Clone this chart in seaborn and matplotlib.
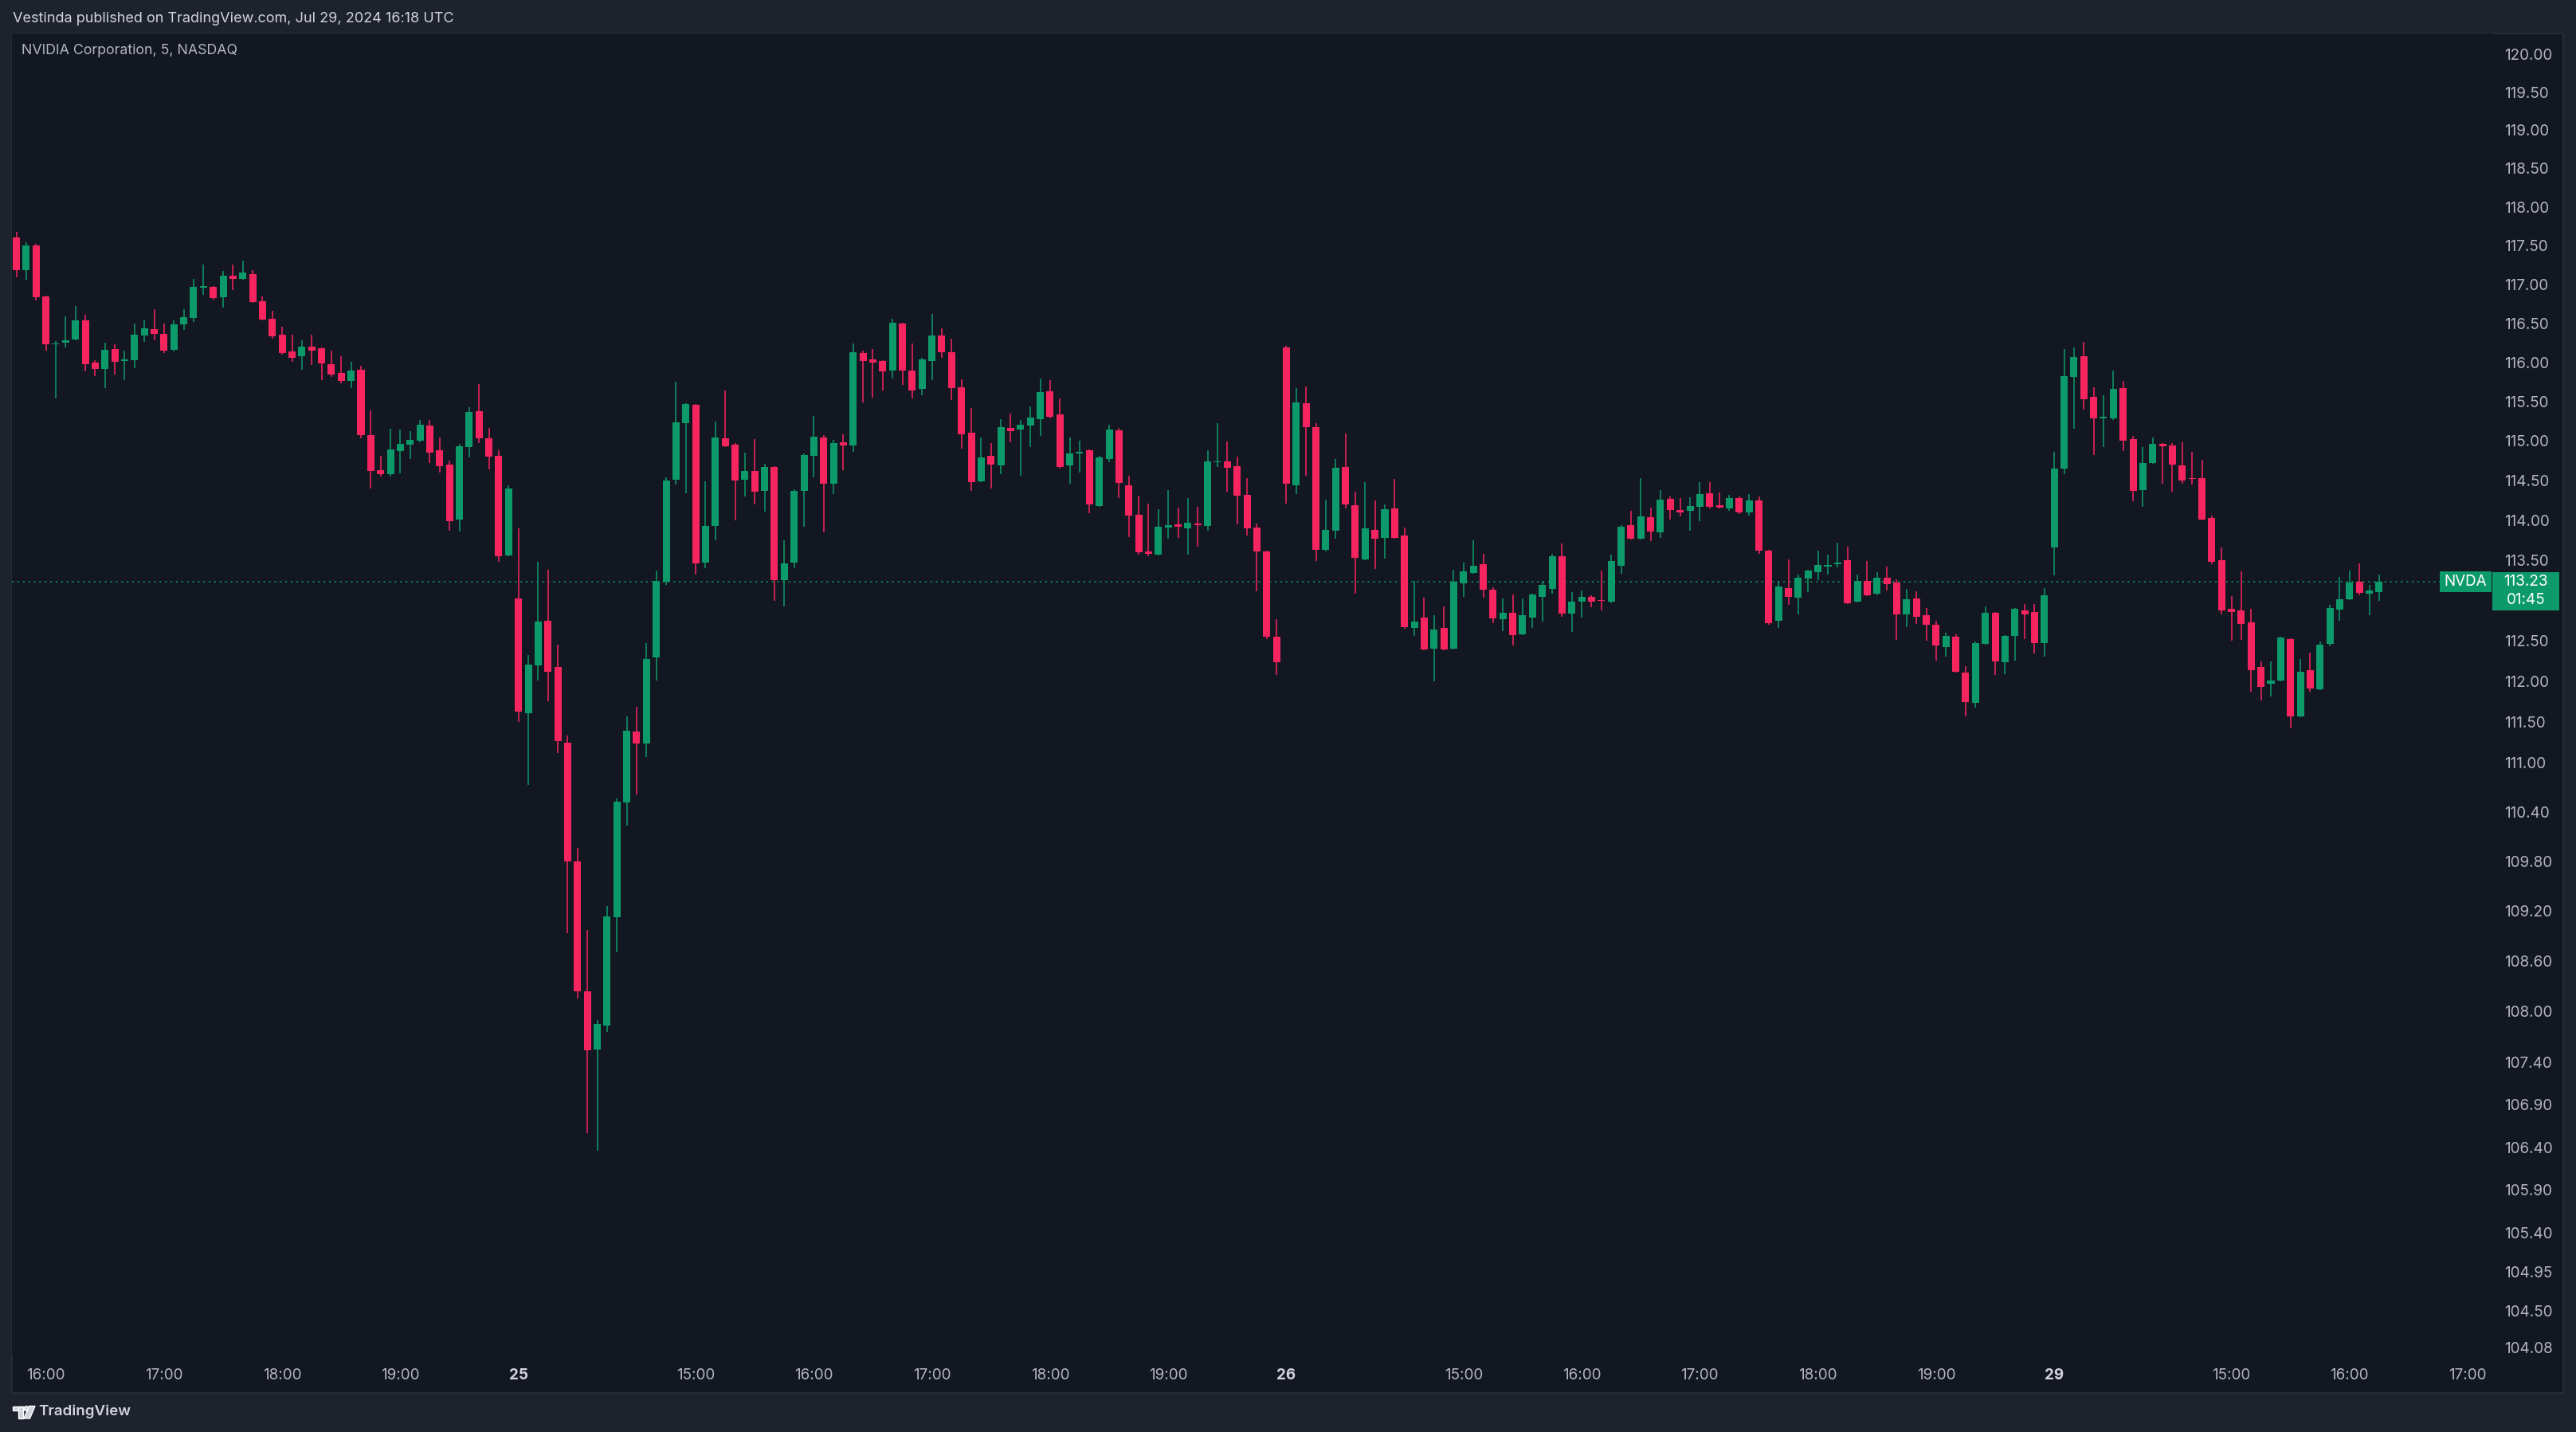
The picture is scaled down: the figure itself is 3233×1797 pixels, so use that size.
import numpy as np
import pandas as pd
import matplotlib
matplotlib.use("Agg")
import matplotlib.pyplot as plt
import seaborn as sns
from matplotlib.patches import Rectangle, Polygon, Circle
from matplotlib.ticker import FixedLocator, FixedFormatter, NullLocator
from matplotlib.transforms import IdentityTransform

# ---------------- data (NVDA, 5-minute candles, UTC) ----------------
session_starts = ["2024-07-24 15:45", "2024-07-25 13:30", "2024-07-26 13:30", "2024-07-29 13:30"]

jul24_open = [117.60, 117.18, 117.50, 116.84, 116.23, 116.25, 116.29, 116.54, 116.00, 115.91,
              116.17, 116.02, 116.03, 116.34, 116.42, 116.36, 116.16, 116.48, 116.57, 116.96,
              116.97, 116.83, 117.11, 117.07, 117.13, 116.78, 116.56, 116.35, 116.14, 116.08,
              116.20, 116.18, 115.98, 115.86, 115.76, 115.90, 115.07, 114.63, 114.58, 114.87,
              114.95, 115.00, 115.19, 114.88, 114.70, 114.01, 114.92, 115.38, 115.03, 114.81, 113.56]
jul24_high = [117.68, 117.54, 117.52, 116.85, 116.27, 116.59, 116.72, 116.61, 116.03, 116.25,
              116.23, 116.15, 116.50, 116.54, 116.68, 116.50, 116.54, 116.68, 117.07, 117.25,
              116.98, 117.17, 117.25, 117.31, 117.18, 116.84, 116.66, 116.45, 116.35, 116.28,
              116.35, 116.19, 116.15, 116.08, 116.01, 115.95, 115.39, 114.81, 115.15, 115.14,
              115.12, 115.27, 115.27, 115.04, 114.75, 114.96, 115.43, 115.72, 115.16, 114.88, 114.44]
jul24_low = [117.09, 117.06, 116.79, 116.15, 115.54, 116.19, 116.28, 115.88, 115.82, 115.67,
             115.84, 115.77, 115.92, 116.26, 116.28, 116.12, 116.14, 116.41, 116.52, 116.86,
             116.80, 116.70, 116.92, 117.06, 116.76, 116.54, 116.30, 116.10, 116.01, 115.90,
             115.97, 115.77, 115.81, 115.73, 115.67, 115.03, 114.40, 114.55, 114.55, 114.59,
             114.77, 114.98, 114.72, 114.60, 113.87, 113.86, 114.79, 114.97, 114.64, 113.48, 113.55]
jul24_close = [117.18, 117.50, 116.83, 116.23, 116.24, 116.28, 116.54, 115.98, 115.91, 116.16,
               116.01, 116.03, 116.35, 116.43, 116.36, 116.15, 116.49, 116.58, 116.97, 116.97,
               116.82, 117.11, 117.07, 117.15, 116.77, 116.55, 116.33, 116.12, 116.06, 116.20,
               116.15, 115.99, 115.84, 115.76, 115.89, 115.07, 114.62, 114.58, 114.89, 114.96,
               115.01, 115.21, 114.85, 114.68, 113.99, 114.93, 115.37, 115.03, 114.80, 113.55, 114.40]

jul25_open = [113.02, 111.61, 112.19, 112.75, 112.17, 111.24, 109.80, 108.24, 107.55, 107.83,
              109.13, 110.51, 111.38, 111.23, 112.29, 113.23, 114.51, 115.23, 115.46, 113.47,
              113.93, 115.03, 114.95, 114.51, 114.62, 114.37, 114.67, 113.25, 113.47, 114.37,
              114.81, 115.04, 114.46, 114.98, 114.94, 116.12, 116.04, 116.02, 115.89, 116.50,
              115.89, 115.66, 116.02, 116.34, 116.13, 115.68, 115.10, 114.49, 114.81, 114.69,
              115.16, 115.14, 115.19, 115.28, 115.63, 115.34, 114.69, 114.84, 114.88, 114.18,
              114.77, 115.13, 114.44, 114.07, 113.61, 113.57, 113.91, 113.95, 113.90, 113.96,
              113.93, 114.73, 114.74, 114.68, 114.32, 113.91, 113.61, 112.55]
jul25_high = [113.90, 112.32, 113.48, 113.38, 112.45, 111.33, 109.96, 108.97, 107.90, 109.26,
              110.56, 111.57, 111.68, 112.47, 113.37, 114.54, 115.75, 115.48, 115.47, 114.49,
              115.25, 115.64, 114.97, 114.85, 115.02, 114.71, 114.68, 113.75, 114.39, 114.84,
              115.32, 115.07, 115.01, 115.08, 116.24, 116.15, 116.17, 116.03, 116.56, 116.51,
              116.24, 116.06, 116.62, 116.43, 116.30, 115.78, 115.42, 115.04, 114.97, 115.28,
              115.35, 115.27, 115.44, 115.79, 115.77, 115.54, 115.04, 115.00, 114.89, 114.81,
              115.21, 115.16, 114.56, 114.31, 114.21, 114.14, 114.38, 114.16, 114.28, 114.17,
              114.88, 115.23, 114.99, 114.80, 114.53, 113.96, 113.62, 112.77]
jul25_low = [111.50, 110.73, 112.01, 111.75, 111.12, 108.94, 108.16, 106.56, 106.36, 107.76,
             108.71, 110.23, 110.61, 111.07, 112.01, 113.19, 114.45, 114.34, 113.32, 113.40,
             113.75, 114.92, 114.00, 114.30, 114.20, 114.11, 112.99, 112.92, 113.40, 113.92,
             114.54, 113.85, 114.33, 114.63, 114.86, 115.49, 115.55, 115.64, 115.79, 115.71,
             115.54, 115.58, 115.77, 116.06, 115.52, 114.90, 114.37, 114.48, 114.40, 114.58,
             114.98, 114.56, 114.92, 115.06, 115.29, 114.65, 114.46, 114.60, 114.09, 114.17,
             114.73, 114.28, 113.79, 113.57, 113.55, 113.56, 113.77, 113.78, 113.57, 113.67,
             113.87, 114.67, 114.36, 113.95, 113.81, 113.11, 112.52, 112.08]
jul25_close = [111.62, 112.20, 112.74, 112.12, 111.26, 109.80, 108.24, 107.54, 107.85, 109.14,
               110.52, 111.39, 111.23, 112.27, 113.24, 114.50, 115.24, 115.47, 113.46, 113.93,
               115.04, 114.93, 114.50, 114.62, 114.36, 114.67, 113.25, 113.46, 114.37, 114.82,
               115.05, 114.46, 114.97, 114.94, 116.13, 116.02, 116.00, 115.88, 116.51, 115.89,
               115.64, 116.04, 116.34, 116.13, 115.67, 115.08, 114.48, 114.79, 114.70, 115.17,
               115.12, 115.21, 115.30, 115.62, 115.31, 114.67, 114.84, 114.86, 114.20, 114.79,
               115.14, 114.47, 114.06, 113.60, 113.58, 113.92, 113.94, 113.92, 113.97, 113.94,
               114.74, 114.74, 114.66, 114.31, 113.90, 113.61, 112.55, 112.23]

jul26_open = [116.19, 114.44, 115.48, 115.17, 113.63, 113.87, 114.67, 114.19, 113.51, 113.88,
              113.78, 114.15, 113.81, 112.66, 112.79, 112.40, 112.66, 112.40, 113.21, 113.34,
              113.45, 113.13, 112.77, 112.85, 112.58, 112.79, 113.04, 113.14, 113.55, 112.84,
              112.98, 113.04, 113.00, 112.98, 113.43, 113.94, 113.77, 114.04, 113.85, 114.27,
              114.13, 114.12, 114.17, 114.34, 114.19, 114.15, 114.28, 114.10, 114.25, 113.62,
              112.75, 113.15, 113.03, 113.27, 113.35, 113.42, 113.45, 113.50, 112.98, 113.24,
              113.08, 113.28, 113.22, 112.83, 113.02, 112.82, 112.70, 112.42, 112.55, 112.11,
              111.73, 112.46, 112.85, 112.23, 112.56, 112.87, 112.86, 112.47]
jul26_high = [116.21, 115.67, 115.69, 115.23, 114.26, 114.77, 115.09, 114.36, 114.48, 114.25,
              114.20, 114.52, 113.91, 113.24, 113.03, 112.82, 112.92, 113.38, 113.47, 113.75,
              113.58, 113.16, 113.02, 113.07, 113.02, 113.08, 113.24, 113.58, 113.71, 113.10,
              113.12, 113.06, 113.37, 113.57, 113.94, 114.12, 114.53, 114.16, 114.38, 114.30,
              114.28, 114.29, 114.48, 114.48, 114.35, 114.32, 114.30, 114.33, 114.30, 113.63,
              113.24, 113.51, 113.32, 113.38, 113.62, 113.57, 113.72, 113.67, 113.32, 113.49,
              113.35, 113.42, 113.26, 113.14, 113.11, 112.90, 112.75, 112.60, 112.58, 112.18,
              112.49, 112.92, 112.86, 112.57, 112.90, 112.95, 112.95, 113.15]
jul26_low = [114.21, 114.33, 114.56, 113.49, 113.61, 113.77, 114.15, 113.08, 113.50, 113.39,
             113.52, 113.77, 112.65, 112.56, 112.38, 112.00, 112.38, 112.39, 113.04, 113.33,
             113.03, 112.72, 112.62, 112.44, 112.57, 112.66, 112.74, 113.08, 112.80, 112.61,
             112.79, 112.91, 112.87, 112.96, 113.33, 113.76, 113.76, 113.74, 113.78, 114.01,
             114.05, 113.87, 113.99, 114.15, 114.15, 114.12, 114.08, 114.06, 113.58, 112.70,
             112.66, 112.94, 112.83, 113.10, 113.25, 113.32, 113.41, 112.95, 112.97, 113.05,
             113.06, 113.12, 112.51, 112.67, 112.71, 112.50, 112.25, 112.30, 112.11, 111.57,
             111.67, 112.45, 112.08, 112.09, 112.25, 112.52, 112.34, 112.30]
jul26_close = [114.46, 115.49, 115.17, 113.63, 113.88, 114.66, 114.20, 113.53, 113.90, 113.77,
               114.14, 113.78, 112.67, 112.74, 112.39, 112.64, 112.39, 113.23, 113.36, 113.43,
               113.13, 112.78, 112.85, 112.57, 112.82, 113.07, 113.19, 113.55, 112.84, 112.98,
               113.04, 112.98, 112.99, 113.49, 113.92, 113.77, 114.05, 113.86, 114.26, 114.13,
               114.10, 114.18, 114.33, 114.17, 114.16, 114.28, 114.10, 114.25, 113.62, 112.72,
               113.17, 113.04, 113.28, 113.37, 113.44, 113.44, 113.47, 112.96, 113.24, 113.06,
               113.28, 113.20, 112.83, 113.01, 112.80, 112.70, 112.44, 112.56, 112.12, 111.74,
               112.47, 112.85, 112.24, 112.56, 112.89, 112.83, 112.47, 113.06]

jul29_open = [113.66, 114.65, 115.81, 116.08, 115.56, 115.29, 115.29, 115.67, 115.02, 114.38,
              114.72, 114.96, 114.94, 114.69, 114.53, 114.53, 114.03, 113.50, 112.89, 112.87,
              112.73, 112.17, 111.97, 112.01, 112.52, 111.57, 112.13, 111.90, 112.46, 112.88,
              113.01, 113.23, 113.08, 113.10]
jul29_high = [114.86, 116.17, 116.19, 116.26, 115.68, 115.58, 115.89, 115.76, 115.06, 114.92,
              115.04, 114.97, 114.97, 114.98, 114.86, 114.76, 114.06, 113.66, 113.05, 113.36,
              112.89, 112.24, 112.24, 112.55, 112.53, 112.27, 112.35, 112.49, 112.94, 113.29,
              113.37, 113.46, 113.19, 113.32]
jul29_low = [113.31, 114.58, 115.15, 115.40, 114.82, 114.92, 115.27, 114.87, 114.24, 114.17,
             114.71, 114.46, 114.36, 114.46, 114.45, 114.00, 113.45, 112.83, 112.50, 112.51,
             111.87, 111.76, 111.81, 112.00, 111.42, 111.56, 111.87, 111.89, 112.43, 112.75,
             113.00, 113.06, 112.82, 112.99]
jul29_close = [114.65, 115.82, 116.07, 115.53, 115.29, 115.30, 115.66, 115.00, 114.37, 114.72,
               114.96, 114.93, 114.70, 114.50, 114.52, 114.01, 113.48, 112.87, 112.86, 112.71,
               112.13, 111.93, 112.01, 112.54, 111.57, 112.12, 111.91, 112.45, 112.90, 113.01,
               113.22, 113.09, 113.12, 113.23]

price_ticks = [120.00, 119.50, 119.00, 118.50, 118.00, 117.50, 117.00, 116.50, 116.00, 115.50,
               115.00, 114.50, 114.00, 113.50, 112.50, 112.00, 111.50, 111.00, 110.40, 109.80,
               109.20, 108.60, 108.00, 107.40, 106.90, 106.40, 105.90, 105.40, 104.95, 104.50, 104.08]
time_ticks = ["2024-07-24 16:00", "2024-07-24 17:00", "2024-07-24 18:00", "2024-07-24 19:00",
              "2024-07-25 13:30", "2024-07-25 15:00", "2024-07-25 16:00", "2024-07-25 17:00",
              "2024-07-25 18:00", "2024-07-25 19:00",
              "2024-07-26 13:30", "2024-07-26 15:00", "2024-07-26 16:00", "2024-07-26 17:00",
              "2024-07-26 18:00", "2024-07-26 19:00",
              "2024-07-29 13:30", "2024-07-29 15:00", "2024-07-29 16:00", "2024-07-29 17:00"]

header_text = "Vestinda published on TradingView.com, Jul 29, 2024 16:18 UTC"
title_text = "NVIDIA Corporation, 5, NASDAQ"
symbol = "NVDA"
countdown = "01:45"

# ---------------- build table ----------------
days = [(jul24_open, jul24_high, jul24_low, jul24_close),
        (jul25_open, jul25_high, jul25_low, jul25_close),
        (jul26_open, jul26_high, jul26_low, jul26_close),
        (jul29_open, jul29_high, jul29_low, jul29_close)]
frames = []
offsets = []
n = 0
for start, (o, h, l, c) in zip(session_starts, days):
    offsets.append(n)
    frames.append(pd.DataFrame({"time": pd.date_range(start, periods=len(o), freq="5min"),
                                "open": o, "high": h, "low": l, "close": c}))
    n += len(o)
df = pd.concat(frames, ignore_index=True)
df["slot"] = np.arange(len(df))
df["up"] = df["close"] >= df["open"]


def slot_of(t):
    t = pd.Timestamp(t)
    starts = [pd.Timestamp(s) for s in session_starts]
    k = max(i for i, s in enumerate(starts) if s <= t)
    return offsets[k] + (t - starts[k]) / pd.Timedelta("5min")


# ---------------- style ----------------
W, H = 3233, 1797
FRAME = "#1e222d"
PANE = "#131722"
UP = "#0d9a6b"
DOWN = "#f7255f"
TXT = "#b2b5be"
LIGHT = "#d1d4dc"

sns.set_theme(style="dark", rc={"axes.facecolor": PANE, "figure.facecolor": FRAME,
                                "axes.edgecolor": PANE, "axes.grid": False})
plt.rcParams["font.family"] = ["Inter", "DejaVu Sans"]

fig = plt.figure(figsize=(W / 100, H / 100), dpi=100, facecolor=FRAME)


def fx(px):
    return px / W


def fy(py):
    return 1 - py / H


# pane background (drawn beneath the axes)
fig.patches.append(Rectangle((fx(15), fy(1748)), fx(3217) - fx(15), fy(42) - fy(1748),
                             transform=fig.transFigure, facecolor=PANE, edgecolor="#2a2e39",
                             lw=1.2, zorder=-10))

ax = fig.add_axes([fx(15), fy(1700), fx(3128) - fx(15), fy(42) - fy(1700)])
ax.set_zorder(2)
ax.set_facecolor(PANE)
for s in ax.spines.values():
    s.set_visible(False)

# price axis calibration (log scale): 120.00 at px 68, 11403 px per ln unit
K = 11403.0
ax.set_yscale("log")
ax.set_ylim(120.0 * np.exp(-(1700 - 68) / K), 120.0 * np.exp((68 - 42) / K))
ax.set_xlim(-0.45, 251.5)

colors = np.where(df["up"], UP, DOWN)
ax.vlines(df["slot"], df["low"], df["high"], colors=colors, linewidth=1.1, zorder=2)
body_lo = np.minimum(df["open"], df["close"])
body_h = np.maximum((df["close"] - df["open"]).abs(), 0.012)
ax.bar(df["slot"], body_h, bottom=body_lo, width=0.73, color=colors, linewidth=0, zorder=3)

last = df["close"].iloc[-1]
ax.axhline(last, color=UP, lw=1.3, ls=(0, (1.2, 2.6)), alpha=0.85, zorder=1)

# ticks
ax.yaxis.tick_right()
ax.yaxis.set_major_locator(FixedLocator(price_ticks))
ax.yaxis.set_major_formatter(FixedFormatter([f"{v:.2f}" for v in price_ticks]))
ax.yaxis.set_minor_locator(NullLocator())
ax.tick_params(axis="y", length=0, pad=11, labelsize=13.6, labelcolor=TXT)

xt = [slot_of(t) for t in time_ticks]
xl = []
for t in time_ticks:
    ts = pd.Timestamp(t)
    if t in session_starts[1:]:
        xl.append(str(ts.day))
    else:
        xl.append(ts.strftime("%H:%M"))
ax.xaxis.set_major_locator(FixedLocator(xt))
ax.xaxis.set_major_formatter(FixedFormatter(xl))
ax.xaxis.set_minor_locator(NullLocator())
ax.tick_params(axis="x", length=0, pad=12.5, labelsize=13.6, labelcolor=TXT)
for lab, t in zip(ax.get_xticklabels(), time_ticks):
    if t in session_starts[1:]:
        lab.set_fontweight("bold")
        lab.set_color(LIGHT)
ax.set_xlabel("")
ax.set_ylabel("")

# last price labels
ydisp = ax.transData.transform((0, last))[1]
ypx = H - ydisp
idt = IdentityTransform()
fig.patches.append(Rectangle((3062, H - (ypx + 13)), 65, 26, transform=idt,
                             facecolor=UP, edgecolor="none", zorder=5))
fig.patches.append(Rectangle((3128, H - (ypx + 36)), 84, 48, transform=idt,
                             facecolor=UP, edgecolor="none", zorder=5))
fig.text(fx(3094.5), fy(ypx), symbol, color="white", fontsize=13.6, ha="center", va="center", zorder=6)
fig.text(fx(3170), fy(ypx), f"{last:.2f}", color="white", fontsize=13.6, ha="center", va="center", zorder=6)
fig.text(fx(3170), fy(ypx + 23), countdown, color="white", fontsize=13.6, ha="center", va="center", zorder=6)

# header / title
fig.text(fx(16), fy(23), header_text, color=LIGHT, fontsize=13, ha="left", va="center")
fig.text(fx(27), fy(64), title_text, color=TXT, fontsize=12.8, ha="left", va="center")

# TradingView logo + wordmark
logo_c = LIGHT
fig.patches.append(Rectangle((16, H - 1770), 13, 5.5, transform=idt, facecolor=logo_c, zorder=5))
fig.patches.append(Rectangle((22.5, H - 1780), 6.5, 15, transform=idt, facecolor=logo_c, zorder=5))
fig.patches.append(Circle((33, H - 1767.5), 2.8, transform=idt, facecolor=logo_c, zorder=5))
fig.patches.append(Polygon([(36.5, H - 1764.5), (44, H - 1764.5), (37.5, H - 1780), (30, H - 1780)],
                           closed=True, transform=idt, facecolor=logo_c, zorder=5))
fig.text(fx(48), fy(1771), "TradingView", color=logo_c, fontsize=13.5, fontweight="semibold",
         ha="left", va="center")

fig.savefig("out.png", dpi=100, facecolor=FRAME)
